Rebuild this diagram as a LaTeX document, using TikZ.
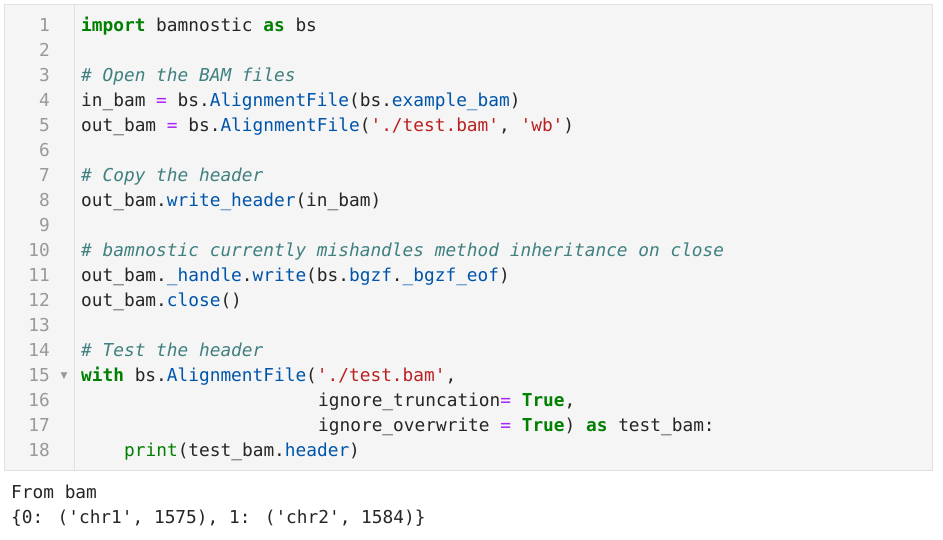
\documentclass[tikz,border=0pt]{standalone}
\usepackage{fontspec}
\newfontfamily\code{DejaVu Sans Mono}[Scale=1]
\newfontfamily\outf{DejaVu Sans Mono}
\newfontfamily\dv{DejaVu Sans}
\definecolor{kw}{HTML}{008000}
\definecolor{fn}{HTML}{0055AA}
\definecolor{st}{HTML}{BA2121}
\definecolor{cm}{HTML}{408080}
\definecolor{op}{HTML}{AA22FF}
\definecolor{ln}{HTML}{999999}
\definecolor{bg}{HTML}{F5F5F5}
\definecolor{bd}{HTML}{E0E0E0}
\newcommand{\KW}[1]{\textcolor{kw}{\textbf{#1}}}
\newcommand{\FN}[1]{\textcolor{fn}{#1}}
\newcommand{\ST}[1]{\textcolor{st}{#1}}
\newcommand{\CM}[1]{\textcolor{cm}{\itshape #1}}
\newcommand{\OP}[1]{\textcolor{op}{#1}}
\begin{document}
\begin{tikzpicture}[x=1pt,y=-1pt,
  codeline/.style={anchor=base west,inner sep=0pt,font=\code\fontsize{17.8}{20}\selectfont,text=black!85},
  lnum/.style={anchor=base east,inner sep=0pt,font=\code\fontsize{17.8}{20}\selectfont,text=ln},
  outline/.style={anchor=base west,inner sep=0pt,font=\outf\fontsize{17.8}{20}\selectfont,text=black!85}]
\useasboundingbox (0,0) rectangle (943,539);
\fill[white] (0,0) rectangle (943,539);
\draw[bd,fill=bg] (4.5,4.5) rectangle (932.5,470.5);
\draw[bd] (74.5,4.5) -- (74.5,470.5);
\foreach \i in {1,...,18} {
  \node[lnum] (n\i) at (50,{31+(\i-1)*25}) {\i};
}
\node[text=ln,font=\dv\fontsize{9}{9}\selectfont,inner sep=0pt] (fold) at (64,376) {▼};
\node[codeline] (l1) at (81,31) {\KW{import} bamnostic \KW{as} bs};
\node[codeline] (l3) at (81,81) {\CM{\# Open the BAM files}};
\node[codeline] (l4) at (81,106) {in\_bam \OP{=} bs.\FN{AlignmentFile}(bs.\FN{example\_bam})};
\node[codeline] (l5) at (81,131) {out\_bam \OP{=} bs.\FN{AlignmentFile}(\ST{'./test.bam'}, \ST{'wb'})};
\node[codeline] (l7) at (81,181) {\CM{\# Copy the header}};
\node[codeline] (l8) at (81,206) {out\_bam.\FN{write\_header}(in\_bam)};
\node[codeline] (l10) at (81,256) {\CM{\# bamnostic currently mishandles method inheritance on close}};
\node[codeline] (l11) at (81,281) {out\_bam.\FN{\_handle}.\FN{write}(bs.\FN{bgzf}.\FN{\_bgzf\_eof})};
\node[codeline] (l12) at (81,306) {out\_bam.\FN{close}()};
\node[codeline] (l14) at (81,356) {\CM{\# Test the header}};
\node[codeline] (l15) at (81,381) {\KW{with} bs.\FN{AlignmentFile}(\ST{'./test.bam'},};
\node[codeline] (l16) at (318,406) {ignore\_truncation\OP{=} \KW{True},};
\node[codeline] (l17) at (318,431) {ignore\_overwrite \OP{=} \KW{True}) \KW{as} test\_bam:};
\node[codeline] (l18) at (124,456) {\textcolor{kw}{print}(test\_bam.\FN{header})};
\node[outline] (o1) at (11,498) {From bam};
\node[outline] (o2) at (11,523) {\{0: ('chr1', 1575), 1: ('chr2', 1584)\}};
\end{tikzpicture}
\end{document}
